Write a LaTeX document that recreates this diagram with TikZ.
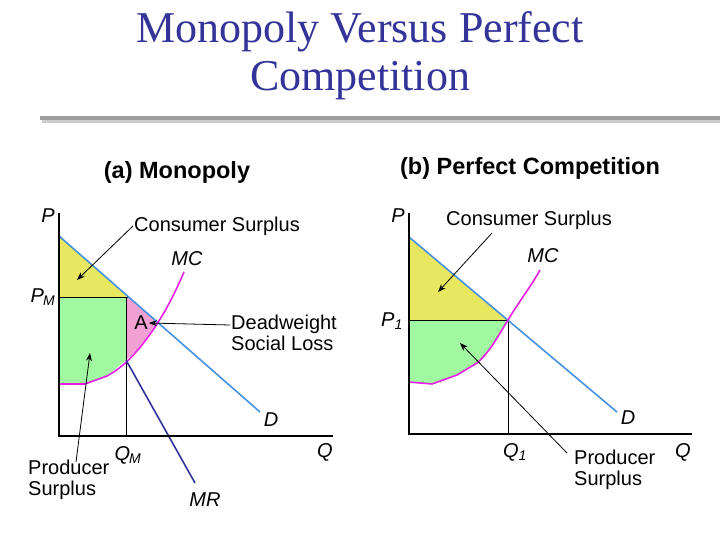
\documentclass[tikz,border=0pt]{standalone}
\usepackage{fontspec}
\setmainfont{Liberation Sans}
\newfontfamily\titlefont{Liberation Serif}
\usetikzlibrary{arrows.meta}
\begin{document}
\begin{tikzpicture}[x=1pt,y=-1pt,
  lbl/.style={font=\fontsize{20}{21}\selectfont,inner sep=1pt},
  ilbl/.style={lbl,font=\fontsize{20}{21}\selectfont\itshape},
  hdr/.style={font=\fontsize{23.5}{26}\selectfont\bfseries},
  axis/.style={line width=1.8pt},
  dline/.style={draw={rgb,255:red,70;green,145;blue,225},line width=1.6pt},
  mcline/.style={draw={rgb,255:red,230;green,30;blue,230},line width=1.6pt},
  ptr/.style={-{Stealth[length=8pt,width=6pt]},line width=0.8pt},
  thin/.style={line width=0.8pt}]
\definecolor{ysurp}{RGB}{232,232,96}
\definecolor{gsurp}{RGB}{160,248,160}
\definecolor{psurp}{RGB}{240,160,210}
\definecolor{tblue}{RGB}{51,51,153}
\useasboundingbox (0,0) rectangle (720,540);
% title
\node[font=\titlefont\fontsize{44}{48}\selectfont,text=tblue,align=center] (title) at (360,56) {Monopoly Versus Perfect\\Competition};
\fill[gray!40] (42,120) rectangle (720,123);
\fill[gray!75] (40,116) rectangle (720,120);
\node[hdr] (ha) at (177,172) {(a) Monopoly};
\node[hdr] (hb) at (530,168) {(b) Perfect Competition};
% ---- left
\fill[ysurp] (59,236) -- (59,297) -- (128,297) -- cycle;
\fill[psurp] (126,297) -- (128,297) -- (157,322) -- (142,345) -- (126,360) -- cycle;
\fill[gsurp] (59,297) -- (126,297) -- (126,360) -- (107,376) -- (85,384) -- (59,384) -- cycle;
\draw[thin] (59,297) -- (128,297);
\draw[thin] (126,297) -- (126,436);
\draw[dline] (59,236) -- (260,412);
\draw[mcline] (59,384) -- (85,384) -- (107,376) .. controls (118,370) and (128,362) .. (142,345) .. controls (160,322) and (172,300) .. (184,272);
\draw[line width=1.6pt,draw=tblue] (126,360) -- (195,483);
\draw[axis] (59,213) -- (59,436) -- (333,436);
\node[ilbl] (pa) at (48,216) {P};
\node[ilbl] (pm) at (43,297) {P\textsubscript{\kern-1pt M}};
\node[lbl,anchor=west] (csa) at (133,226) {Consumer Surplus};
\coordinate (csat) at (77,280);
\draw[ptr] (csa.west) -- (csat);
\node[ilbl] (mca) at (187,259) {MC};
\node[lbl] (A) at (141,323) {A};
\node[lbl,anchor=west,align=left] (dw) at (230,333) {Deadweight\\Social Loss};
\draw[ptr] (dw.west |- 0,325) -- (A.east);
\node[ilbl] (da) at (271,420) {D};
\node[ilbl] (qa) at (325,452) {Q};
\node[ilbl] (qm) at (128,455) {Q\textsubscript{\kern-1pt M}};
\node[lbl,anchor=west,align=left] (psa) at (27,480) {Producer\\Surplus};
\coordinate (psat) at (90,353);
\draw[ptr] (76,462) -- (psat);
\node[ilbl] (mr) at (205,500) {MR};
% ---- right
\fill[ysurp] (409,237) -- (409,320) -- (508,320) -- cycle;
\fill[gsurp] (409,320) -- (508,320) .. controls (498,336) and (490,352) .. (477,363) -- (457,375) -- (432,384) -- (409,382) -- cycle;
\draw[thin] (409,320) -- (508,320);
\draw[thin] (508,320) -- (508,434);
\draw[dline] (409,237) -- (617,412);
\draw[mcline] (409,382) -- (432,384) -- (457,375) -- (477,363) .. controls (490,352) and (498,336) .. (508,320) .. controls (520,300) and (530,288) .. (540,270);
\draw[axis] (409,213) -- (409,434) -- (692,434);
\node[ilbl] (pb) at (398,216) {P};
\node[ilbl] (p1) at (392,321) {P\textsubscript{1}};
\node[lbl,anchor=west] (csb) at (445,220) {Consumer Surplus};
\coordinate (csbt) at (438,292);
\draw[ptr] (492,233) -- (csbt);
\node[ilbl] (mcb) at (543,256) {MC};
\node[ilbl] (db) at (628,418) {D};
\node[ilbl] (qb) at (683,452) {Q};
\node[ilbl] (q1) at (515,452) {Q\textsubscript{1}};
\node[lbl,anchor=west,align=left] (psb) at (573,470) {Producer\\Surplus};
\coordinate (psbt) at (460,343);
\draw[ptr] (567,453) -- (psbt);
\end{tikzpicture}
\end{document}
